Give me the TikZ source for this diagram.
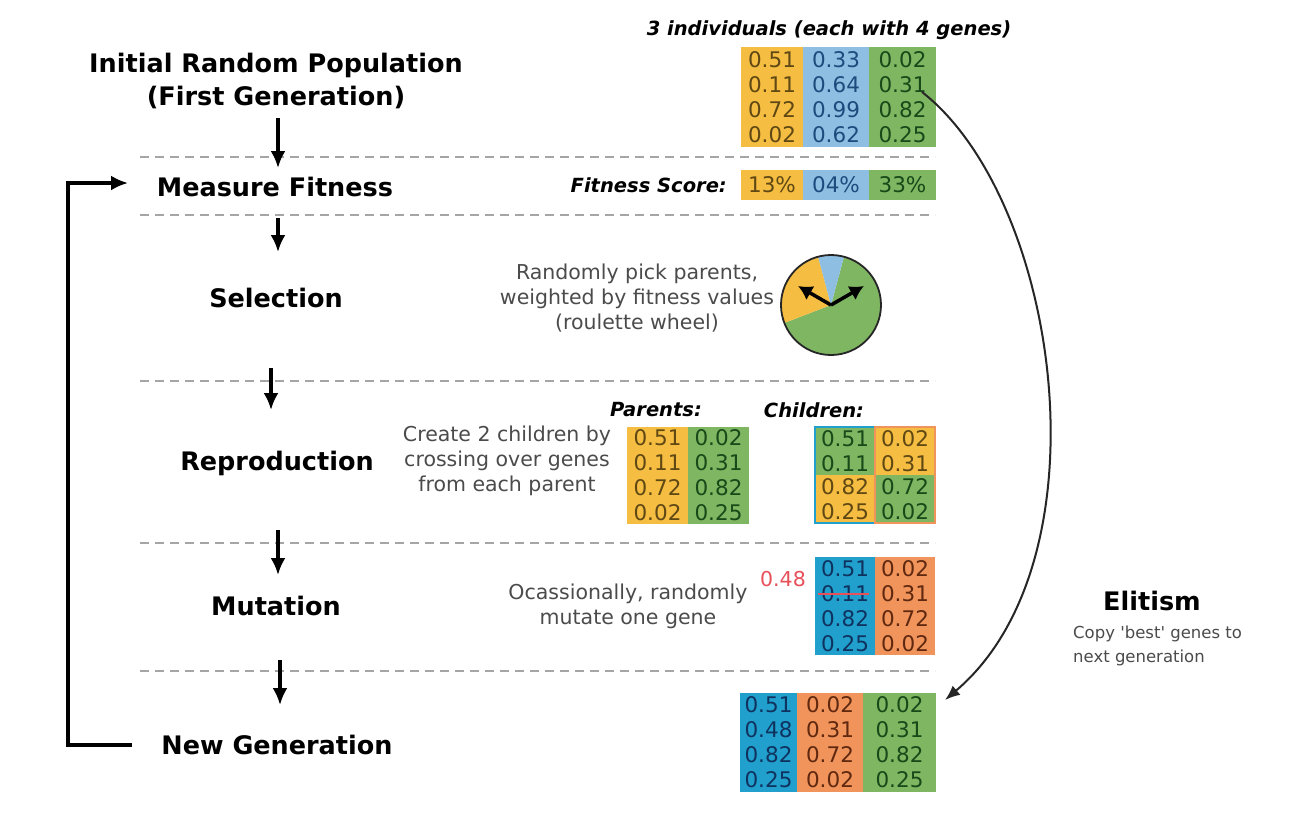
\documentclass[tikz,border=0pt]{standalone}
\usepackage{fontspec}
\setmainfont{DejaVu Sans}
\usetikzlibrary{arrows.meta}
\definecolor{yel}{RGB}{245,189,65}
\definecolor{lbl}{RGB}{142,190,226}
\definecolor{grn}{RGB}{126,182,98}
\definecolor{mbl}{RGB}{33,160,205}
\definecolor{org}{RGB}{240,148,92}
\definecolor{tyel}{RGB}{95,72,20}
\definecolor{tlbl}{RGB}{30,75,125}
\definecolor{tgrn}{RGB}{25,72,25}
\definecolor{tmbl}{RGB}{15,50,95}
\definecolor{torg}{RGB}{95,40,15}
\definecolor{gtxt}{RGB}{75,75,75}
\definecolor{dashc}{RGB}{165,165,165}
\definecolor{redm}{RGB}{232,80,90}
\begin{document}
\begin{tikzpicture}[x=1pt,y=-1pt,
  lab/.style={font=\fontsize{25.5}{33}\selectfont\bfseries, inner sep=0pt, align=center},
  head/.style={font=\fontsize{19.5}{22}\selectfont\bfseries\itshape, inner sep=0pt},
  desc/.style={font=\fontsize{20.5}{25}\selectfont, text=gtxt, inner sep=0pt, align=center},
  cell/.style={font=\fontsize{21.5}{25}\selectfont, inner sep=0pt, align=center, minimum height=100pt},
  half/.style={font=\fontsize{21.5}{25}\selectfont, inner sep=0pt, align=center, minimum height=48pt, minimum width=60pt},
  cY/.style={fill=yel, text=tyel},
  cB/.style={fill=lbl, text=tlbl},
  cG/.style={fill=grn, text=tgrn},
  cM/.style={fill=mbl, text=tmbl},
  cO/.style={fill=org, text=torg},
  sep/.style={dashc, line width=2pt, dash pattern=on 9pt off 6pt},
  arr/.style={line width=3.2pt, -{Latex[length=17pt,width=15pt]}}]
\useasboundingbox (0,0) rectangle (1291,812);
\fill[white] (0,0) rectangle (1291,812);

% separators
\foreach \yy in {157,215,381,543,671} \draw[sep] (140,\yy) -- (935,\yy);

% step labels
\node[lab] (init) at (276,81) {Initial Random Population\\(First Generation)};
\node[lab, anchor=base] (fit) at (275,196) {Measure Fitness};
\node[lab, anchor=base] (sel) at (276,307) {Selection};
\node[lab, anchor=base] (rep) at (277,470) {Reproduction};
\node[lab, anchor=base] (mut) at (276,615) {Mutation};
\node[lab, anchor=base] (newg) at (277,754) {New Generation};

% vertical arrows
\coordinate (a1) at (278,118); \coordinate (b1) at (278,168);
\coordinate (a2) at (278,218); \coordinate (b2) at (278,252);
\coordinate (a3) at (271,368); \coordinate (b3) at (271,410);
\coordinate (a4) at (278,530); \coordinate (b4) at (278,575);
\coordinate (a5) at (280,660); \coordinate (b5) at (280,705);
\draw[arr] (a1) -- (b1);
\draw[arr] (a2) -- (b2);
\draw[arr] (a3) -- (b3);
\draw[arr] (a4) -- (b4);
\draw[arr] (a5) -- (b5);

% feedback loop
\coordinate (lp1) at (132,745);
\coordinate (lp2) at (128,183);
\draw[arr] (lp1) -- (68,745) -- (68,183) -- (lp2);

% initial population
\node[head] (indiv) at (829,30) {3 individuals (each with 4 genes)};
\node[cell, cY, minimum width=62pt] (i1) at (772,97) {0.51\\0.11\\0.72\\0.02};
\node[cell, cB, minimum width=66pt] (i2) at (836,97) {0.33\\0.64\\0.99\\0.62};
\node[cell, cG, minimum width=67pt] (i3) at (902.5,97) {0.02\\0.31\\0.82\\0.25};

% fitness
\node[head, anchor=east] (fslab) at (727,185) {Fitness Score:};
\node[cell, cY, minimum width=62pt, minimum height=30pt] (f1) at (772,185) {13\%};
\node[cell, cB, minimum width=66pt, minimum height=30pt] (f2) at (836,185) {04\%};
\node[cell, cG, minimum width=67pt, minimum height=30pt] (f3) at (902.5,185) {33\%};

% selection
\node[desc] (seltxt) at (637,298) {Randomly pick parents,\\weighted by fitness values\\(roulette wheel)};
\begin{scope}[shift={(831,305)}, yscale=-1]
  \fill[grn] (0,0) -- (201:50) arc[start angle=201, end angle=435, radius=50] -- cycle;
  \fill[yel] (0,0) -- (105:50) arc[start angle=105, end angle=201, radius=50] -- cycle;
  \fill[lbl] (0,0) -- (75:50) arc[start angle=75, end angle=105, radius=50] -- cycle;
  \draw[line width=1.8pt, black!85] (0,0) circle[radius=50];
  \draw[line width=3.5pt, -{Latex[length=14pt,width=16pt]}] (0,0) -- (150:38);
  \draw[line width=3.5pt, -{Latex[length=14pt,width=16pt]}] (0,0) -- (30:38);
\end{scope}

% reproduction
\node[desc] (reptxt) at (507,461) {Create 2 children by\\crossing over genes\\from each parent};
\node[head] (plab) at (656,410) {Parents:};
\node[head] (clab) at (814,410) {Children:};
\node[cell, cY, minimum width=61pt, minimum height=97pt] (p1) at (657.5,475) {0.51\\0.11\\0.72\\0.02};
\node[cell, cG, minimum width=61pt, minimum height=97pt] (p2) at (718.5,475) {0.02\\0.31\\0.82\\0.25};
\node[half, cG] (c1t) at (845,451) {0.51\\0.11};
\node[half, cY] (c1b) at (845,499) {0.82\\0.25};
\node[half, cY] (c2t) at (905,451) {0.02\\0.31};
\node[half, cG] (c2b) at (905,499) {0.72\\0.02};
\draw[mbl, line width=2pt] (c1t.north west) rectangle (c1b.south east);
\draw[org, line width=2pt] (c2t.north west) rectangle (c2b.south east);

% mutation
\node[desc] (muttxt) at (628,606) {Ocassionally, randomly\\mutate one gene};
\node[cell, cM, minimum width=60pt, minimum height=98pt] (m1) at (845,606) {0.51\\0.11\\0.82\\0.25};
\node[cell, cO, minimum width=60pt, minimum height=98pt] (m2) at (905,606) {0.02\\0.31\\0.72\\0.02};
\draw[redm, line width=2pt] (818,594) -- (869,594);
\node[font=\fontsize{20.5}{22}\selectfont, text=redm, inner sep=0pt] (newval) at (783,579) {0.48};

% new generation
\node[cell, cM, minimum width=57pt, minimum height=99pt] (n1) at (768.5,742.5) {0.51\\0.48\\0.82\\0.25};
\node[cell, cO, minimum width=66pt, minimum height=99pt] (n2) at (830,742.5) {0.02\\0.31\\0.72\\0.02};
\node[cell, cG, minimum width=73pt, minimum height=99pt] (n3) at (899.5,742.5) {0.02\\0.31\\0.82\\0.25};

% elitism
\node[font=\fontsize{25.5}{28}\selectfont\bfseries, inner sep=0pt] (elit) at (1152,601) {Elitism};
\node[font=\fontsize{16.5}{23.5}\selectfont, text=gtxt, inner sep=0pt, align=left, anchor=north west] (elitxt) at (1073,626) {Copy \textquotesingle best\textquotesingle\ genes to\\next generation};
\coordinate (e1) at (922,92);
\coordinate (e2) at (945,700);
\draw[line width=2pt, black!85, -{Latex[length=15pt,width=12pt]}] (e1) .. controls (1060,200) and (1110,560) .. (e2);
\end{tikzpicture}
\end{document}
